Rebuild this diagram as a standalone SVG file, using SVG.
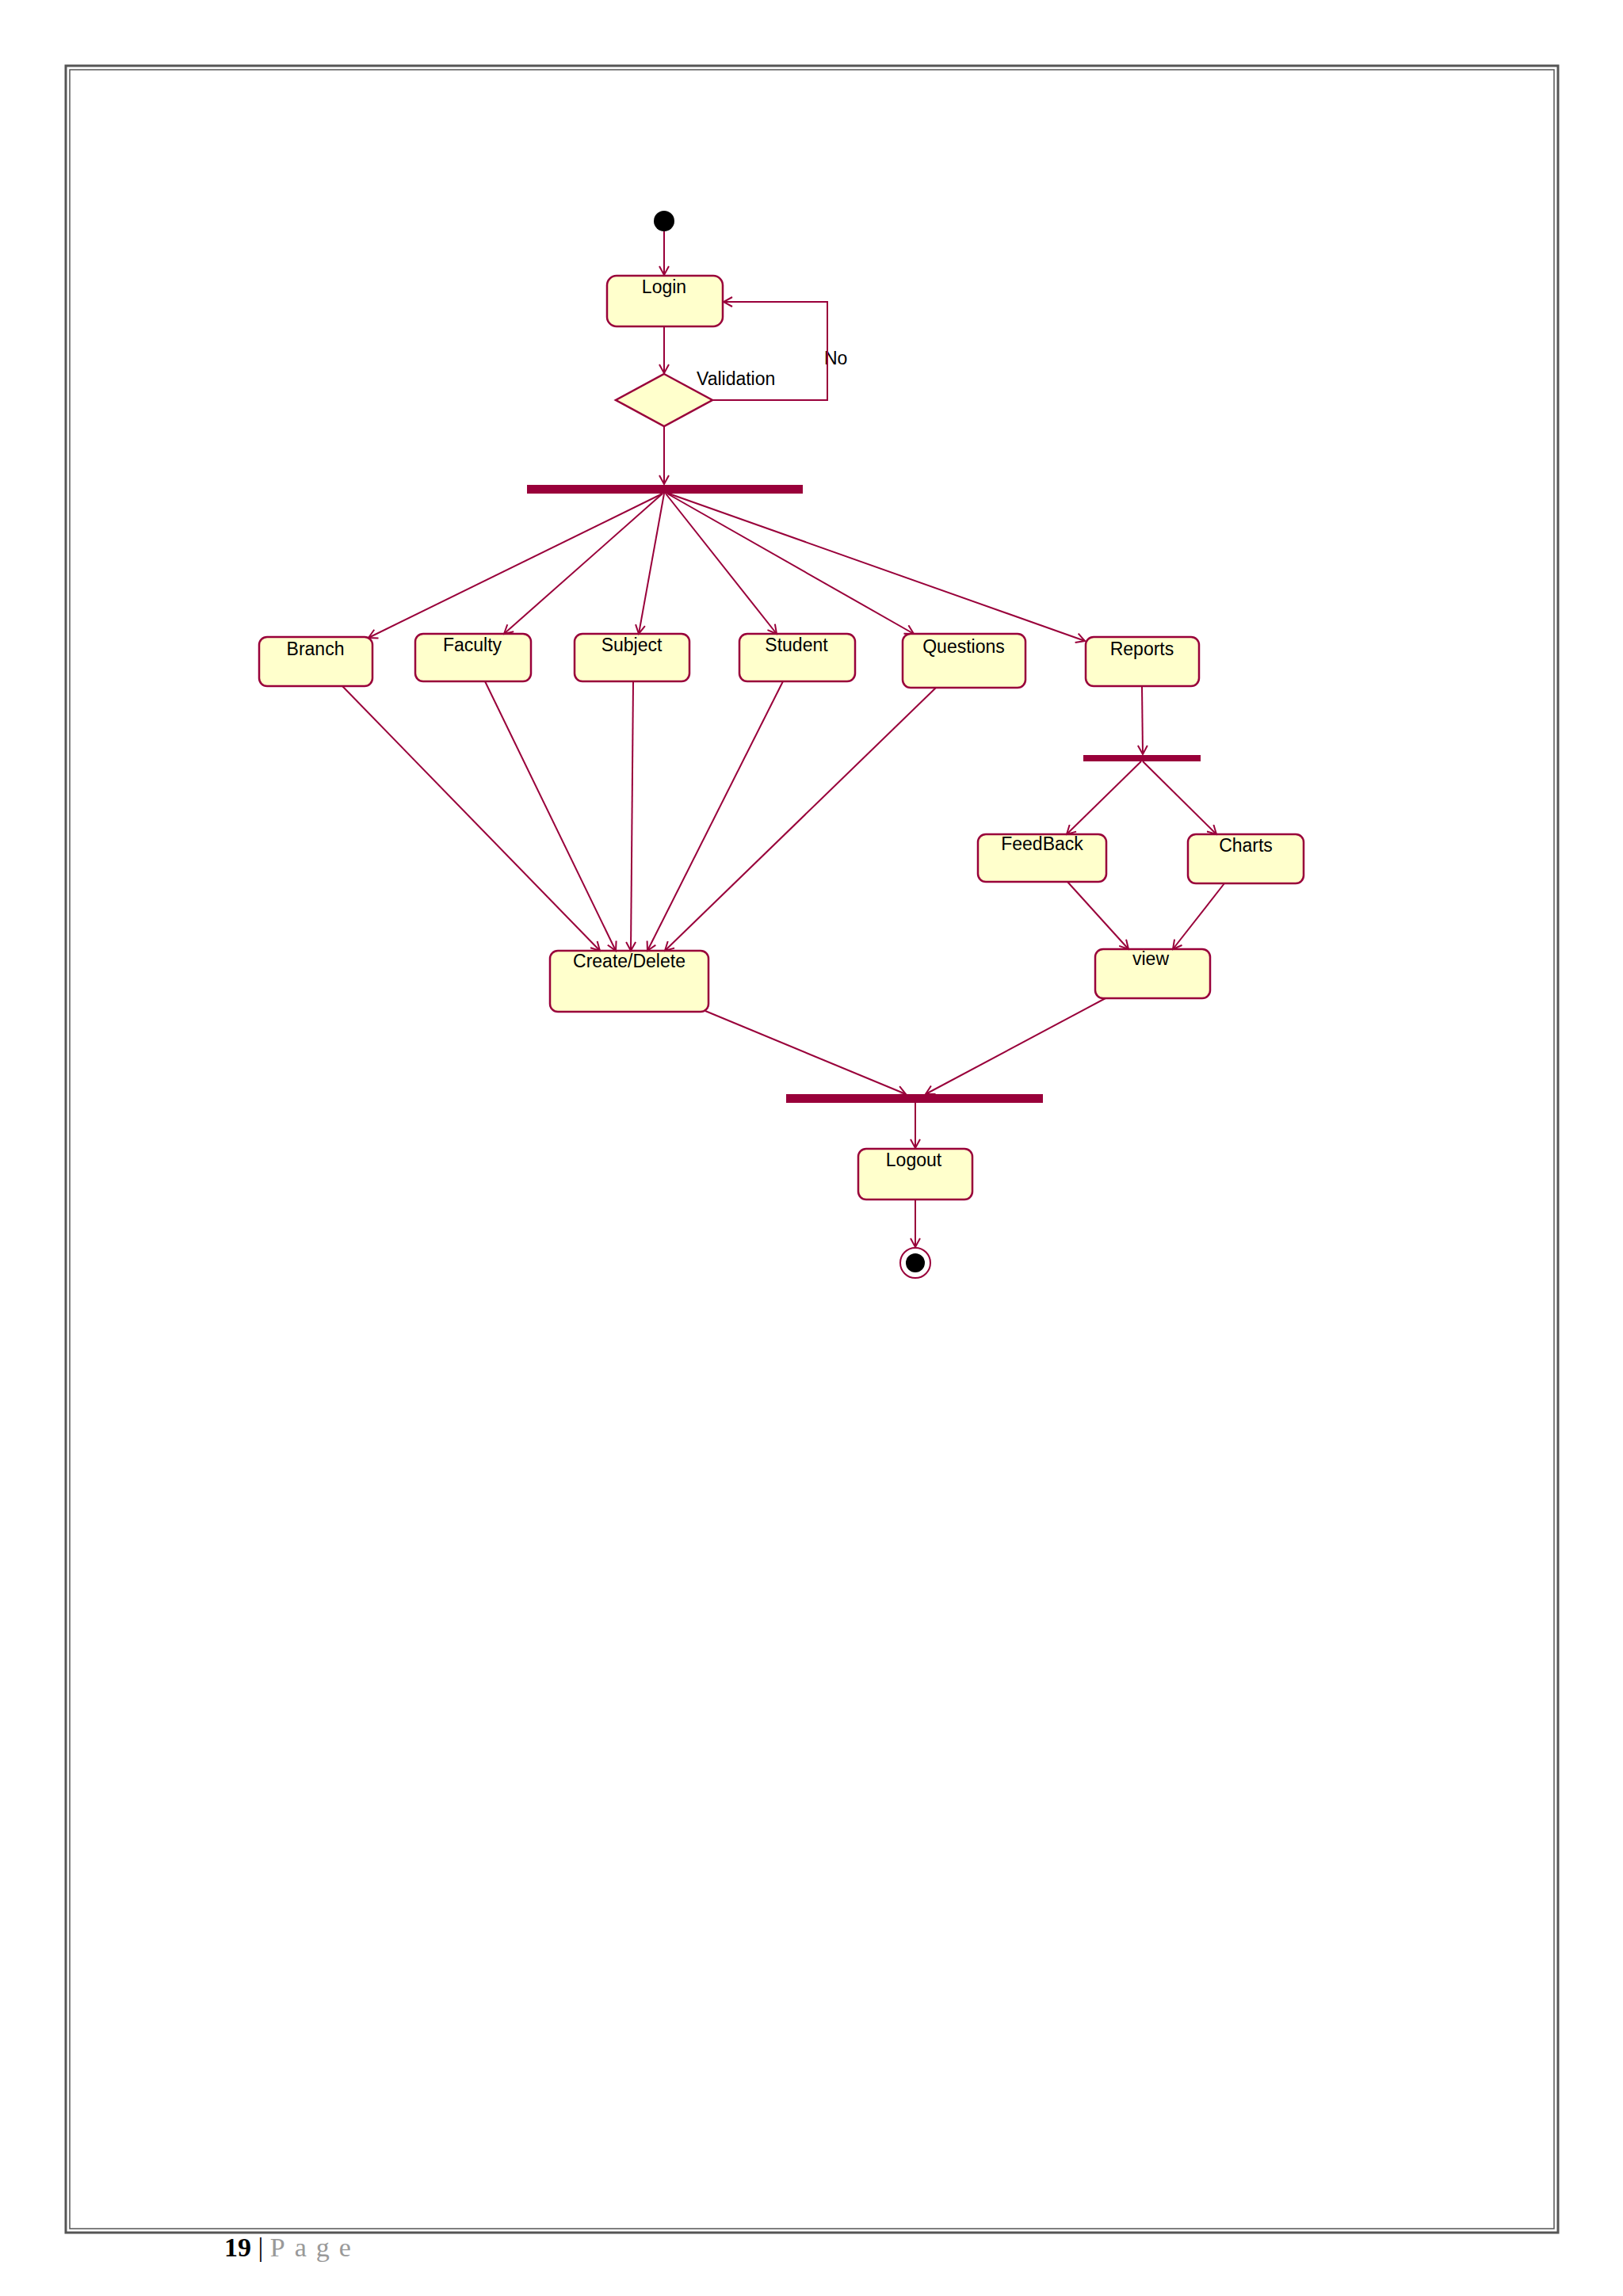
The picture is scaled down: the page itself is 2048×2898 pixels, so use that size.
<svg xmlns="http://www.w3.org/2000/svg" width="2048" height="2898" viewBox="0 0 2048 2898">
<style>
.n{fill:#ffffcc;stroke:#99003a;stroke-width:2.5}
.t{font-family:"Liberation Sans",Arial,sans-serif;font-size:23px;fill:#000;text-anchor:middle}
.s{text-anchor:start}
.e{stroke:#99003a;stroke-width:2;fill:none;marker-end:url(#a)}
.bar{fill:#99003a}
</style>
<defs><marker id="a" markerWidth="14" markerHeight="14" refX="12" refY="7" orient="auto" markerUnits="userSpaceOnUse"><path d="M1,1 L12,7 L1,13" fill="none" stroke="#99003a" stroke-width="2"/></marker></defs>
<rect width="2048" height="2898" fill="#fff"/>
<rect x="83" y="83" width="1883" height="2735" fill="none" stroke="#555" stroke-width="3"/>
<rect x="88" y="88" width="1873" height="2725" fill="none" stroke="#555" stroke-width="1.5"/>
<text x="283" y="2848" font-family="Liberation Serif,serif" font-size="34"><tspan font-weight="bold">19</tspan> | <tspan fill="#999" letter-spacing="12">Page</tspan></text>
<g id="start"><circle cx="838" cy="279" r="13" fill="#000"/></g>
<g id="login"><rect class="n" x="766" y="348" width="146" height="64" rx="12"/><text class="t" x="838" y="370">Login</text></g>
<g id="validation"><polygon class="n" points="838,472 899,505 838,538 777,505"/><text class="t s" x="879" y="486">Validation</text></g>
<text class="t s" x="1040" y="460">No</text>
<g id="fork1"><rect class="bar" x="665" y="612" width="348" height="11"/></g>
<g id="branch"><rect class="n" x="327" y="804" width="143" height="62" rx="10"/><text class="t" x="398" y="827">Branch</text></g>
<g id="faculty"><rect class="n" x="524" y="800" width="146" height="60" rx="10"/><text class="t" x="596" y="822">Faculty</text></g>
<g id="subject"><rect class="n" x="725" y="800" width="145" height="60" rx="10"/><text class="t" x="797" y="822">Subject</text></g>
<g id="student"><rect class="n" x="933" y="800" width="146" height="60" rx="10"/><text class="t" x="1005" y="822">Student</text></g>
<g id="questions"><rect class="n" x="1139" y="800" width="155" height="68" rx="10"/><text class="t" x="1216" y="824">Questions</text></g>
<g id="reports"><rect class="n" x="1370" y="804" width="143" height="62" rx="10"/><text class="t" x="1441" y="827">Reports</text></g>
<g id="fork2"><rect class="bar" x="1367" y="953" width="148" height="8"/></g>
<g id="feedback"><rect class="n" x="1234" y="1053" width="162" height="60" rx="10"/><text class="t" x="1315" y="1073">FeedBack</text></g>
<g id="charts"><rect class="n" x="1499" y="1053" width="146" height="62" rx="10"/><text class="t" x="1572" y="1075">Charts</text></g>
<g id="createdelete"><rect class="n" x="694" y="1200" width="200" height="77" rx="10"/><text class="t" x="794" y="1221">Create/Delete</text></g>
<g id="view"><rect class="n" x="1382" y="1198" width="145" height="62" rx="10"/><text class="t" x="1452" y="1218">view</text></g>
<g id="join"><rect class="bar" x="992" y="1381" width="324" height="11"/></g>
<g id="logout"><rect class="n" x="1083" y="1450" width="144" height="64" rx="10"/><text class="t" x="1153" y="1472">Logout</text></g>
<g id="end"><circle cx="1155" cy="1594" r="19" fill="#fff" stroke="#99003a" stroke-width="2"/><circle cx="1155" cy="1594" r="12" fill="#000"/></g>
<g id="connectors">
<path class="e" d="M838,292 V347"/>
<path class="e" d="M838,412 V471"/>
<path class="e" d="M899,505 H1044 V381 H913"/>
<path class="e" d="M838,538 V611"/>
<path class="e" d="M836,623 L465,805"/>
<path class="e" d="M836,623 L636,800"/>
<path class="e" d="M838,623 L806,800"/>
<path class="e" d="M840,623 L980,800"/>
<path class="e" d="M842,623 L1153,800"/>
<path class="e" d="M844,623 L1369,809"/>
<path class="e" d="M432,866 L757,1200"/>
<path class="e" d="M612,860 L777,1200"/>
<path class="e" d="M799,860 L796,1200"/>
<path class="e" d="M988,860 L817,1200"/>
<path class="e" d="M1181,868 L839,1200"/>
<path class="e" d="M1441,866 L1442,952"/>
<path class="e" d="M1440,961 L1346,1053"/>
<path class="e" d="M1442,961 L1535,1053"/>
<path class="e" d="M1347,1113 L1424,1198"/>
<path class="e" d="M1545,1115 L1480,1198"/>
<path class="e" d="M890,1276 L1143,1381"/>
<path class="e" d="M1395,1260 L1168,1381"/>
<path class="e" d="M1155,1392 V1449"/>
<path class="e" d="M1155,1514 V1574"/>
</g>
</svg>
